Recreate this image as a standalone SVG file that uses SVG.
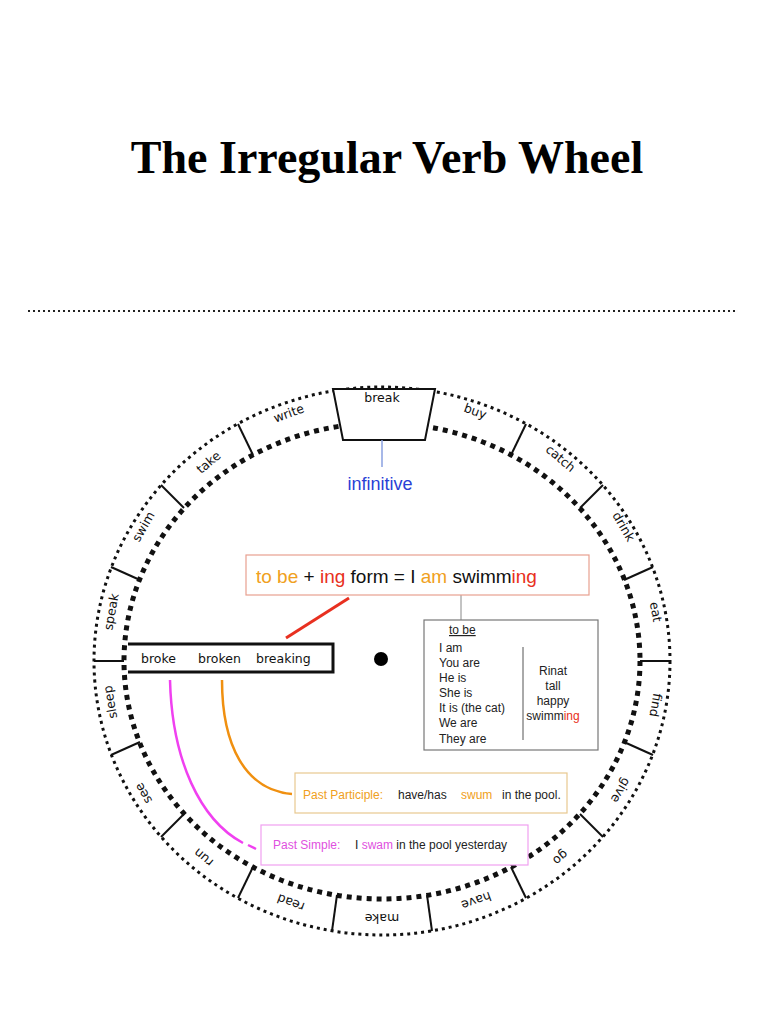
<svg xmlns="http://www.w3.org/2000/svg" width="768" height="1024" viewBox="0 0 768 1024">
<style>
text{font-family:"Liberation Sans",Arial,sans-serif;}
.w{font-family:"DejaVu Sans",sans-serif;font-size:12.5px;fill:#111;text-anchor:middle;dominant-baseline:middle;}
.s{font-family:"DejaVu Sans",sans-serif;font-size:12.5px;fill:#111;}
.t{font-size:12px;fill:#222;}
.p{font-size:12px;}
</style>
<rect width="768" height="1024" fill="#fff"/>
<text x="387" y="173" font-weight="bold" font-size="46" text-anchor="middle" style="font-family:'Liberation Serif',serif">The Irregular Verb Wheel</text>
<line x1="28" y1="311" x2="738" y2="311" stroke="#222" stroke-width="2" stroke-dasharray="2,3"/>
<g id="wheel">
<ellipse cx="382" cy="661" rx="288" ry="274" fill="none" stroke="#111" stroke-width="3" stroke-dasharray="3,4"/>
<ellipse cx="382" cy="661" rx="258" ry="238" fill="none" stroke="#111" stroke-width="5" stroke-dasharray="5,5"/>
<g stroke="#111" stroke-width="2">
<line x1="511" y1="455" x2="526" y2="424"/>
<line x1="580" y1="508" x2="603" y2="485"/>
<line x1="624" y1="580" x2="653" y2="567"/>
<line x1="640" y1="661" x2="670" y2="661"/>
<line x1="624" y1="742" x2="653" y2="755"/>
<line x1="580" y1="814" x2="603" y2="837"/>
<line x1="511" y1="867" x2="526" y2="898"/>
<line x1="427" y1="895" x2="432" y2="931"/>
<line x1="337" y1="895" x2="332" y2="931"/>
<line x1="253" y1="867" x2="238" y2="898"/>
<line x1="184" y1="814" x2="161" y2="837"/>
<line x1="140" y1="742" x2="111" y2="755"/>
<line x1="94" y1="661" x2="124" y2="661"/>
<line x1="140" y1="580" x2="111" y2="567"/>
<line x1="184" y1="508" x2="161" y2="485"/>
<line x1="253" y1="455" x2="238" y2="424"/>
</g>
<polygon points="333,389 435,389 425,440 343,440" fill="#fff" stroke="#111" stroke-width="2"/>
<text class="w" x="382" y="398">break</text>
<text class="w" transform="translate(475,412) rotate(20)">buy</text>
<text class="w" transform="translate(560,459) rotate(40)">catch</text>
<text class="w" transform="translate(623,527) rotate(60)">drink</text>
<text class="w" transform="translate(655,612) rotate(80)">eat</text>
<text class="w" transform="translate(655,705) rotate(100)">find</text>
<text class="w" transform="translate(620,790) rotate(120)">give</text>
<text class="w" transform="translate(560,857) rotate(140)">go</text>
<text class="w" transform="translate(476,900) rotate(160)">have</text>
<text class="w" transform="translate(382,917) rotate(180)">make</text>
<text class="w" transform="translate(291,902) rotate(200)">read</text>
<text class="w" transform="translate(204,857) rotate(220)">run</text>
<text class="w" transform="translate(144,793) rotate(240)">see</text>
<text class="w" transform="translate(111,702) rotate(260)">sleep</text>
<text class="w" transform="translate(112,612) rotate(280)">speak</text>
<text class="w" transform="translate(144,527) rotate(300)">swim</text>
<text class="w" transform="translate(209,463) rotate(320)">take</text>
<text class="w" transform="translate(289,414) rotate(340)">write</text>
</g>
<g id="slider">
<polyline points="128,644 333,644 333,672 128,672" fill="#fff" stroke="#111" stroke-width="3"/>
<text class="s" x="141" y="663">broke</text>
<text class="s" x="198" y="663">broken</text>
<text class="s" x="256" y="663">breaking</text>
</g>
<circle cx="381" cy="659" r="7" fill="#000"/>
<g id="connectors">
<line x1="382" y1="440" x2="382" y2="467" stroke="#8aa0e0" stroke-width="1.5"/>
<line x1="349" y1="598" x2="286" y2="638" stroke="#e83020" stroke-width="3"/>
<line x1="461" y1="595" x2="461" y2="620" stroke="#888" stroke-width="1"/>
<path d="M222,680 C222,745 245,790 292,794" fill="none" stroke="#f09010" stroke-width="2.5"/>
<path d="M170,680 C172,760 200,820 243,843" fill="none" stroke="#f040f0" stroke-width="2.5"/>
<path d="M248,845 L256,849" stroke="#f040f0" stroke-width="2.5"/>
</g>
<g id="infinitive"><text x="380" y="490" font-size="18" fill="#2a3fd6" text-anchor="middle">infinitive</text></g>
<g id="formula">
<rect x="246" y="555" width="343" height="40" fill="none" stroke="#e8a090" stroke-width="1.2"/>
<text x="256" y="583" font-size="19" fill="#111"><tspan fill="#f0a020">to be</tspan> + <tspan fill="#e83020">ing</tspan> form = I <tspan fill="#f0a020">am</tspan> swimm<tspan fill="#e83020">ing</tspan></text>
</g>
<g id="tobe">
<rect x="424" y="620" width="174" height="130" fill="#fff" stroke="#777" stroke-width="1.2"/>
<text x="449" y="634" class="t" text-decoration="underline">to be</text>
<text class="t" x="439" y="652">I am</text>
<text class="t" x="439" y="667">You are</text>
<text class="t" x="439" y="682">He is</text>
<text class="t" x="439" y="697">She is</text>
<text class="t" x="439" y="712">It is (the cat)</text>
<text class="t" x="439" y="727">We are</text>
<text class="t" x="439" y="743">They are</text>
<line x1="523" y1="647" x2="523" y2="740" stroke="#555" stroke-width="1"/>
<g text-anchor="middle"><text class="t" x="553" y="675">Rinat</text>
<text class="t" x="553" y="690">tall</text>
<text class="t" x="553" y="705">happy</text>
<text class="t" x="553" y="720">swimm<tspan fill="#e83020">ing</tspan></text></g>
</g>
<g id="pp">
<rect x="295" y="773" width="272" height="40" fill="#fff" stroke="#e8c890" stroke-width="1.2"/>
<text class="p" x="303" y="799" fill="#f0a020">Past Participle:</text>
<text class="p" x="398" y="799" fill="#222">have/has</text>
<text class="p" x="461" y="799" fill="#f0a020">swum</text>
<text class="p" x="502" y="799" fill="#222">in the pool.</text>
</g>
<g id="ps">
<rect x="261" y="825" width="267" height="40" fill="#fff" stroke="#f0a0f0" stroke-width="1.2"/>
<text class="p" x="273" y="849" fill="#e050e0">Past Simple:</text>
<text class="p" x="355" y="849" fill="#222">I <tspan fill="#e050e0">swam</tspan> in the pool yesterday</text>
</g>
</svg>
